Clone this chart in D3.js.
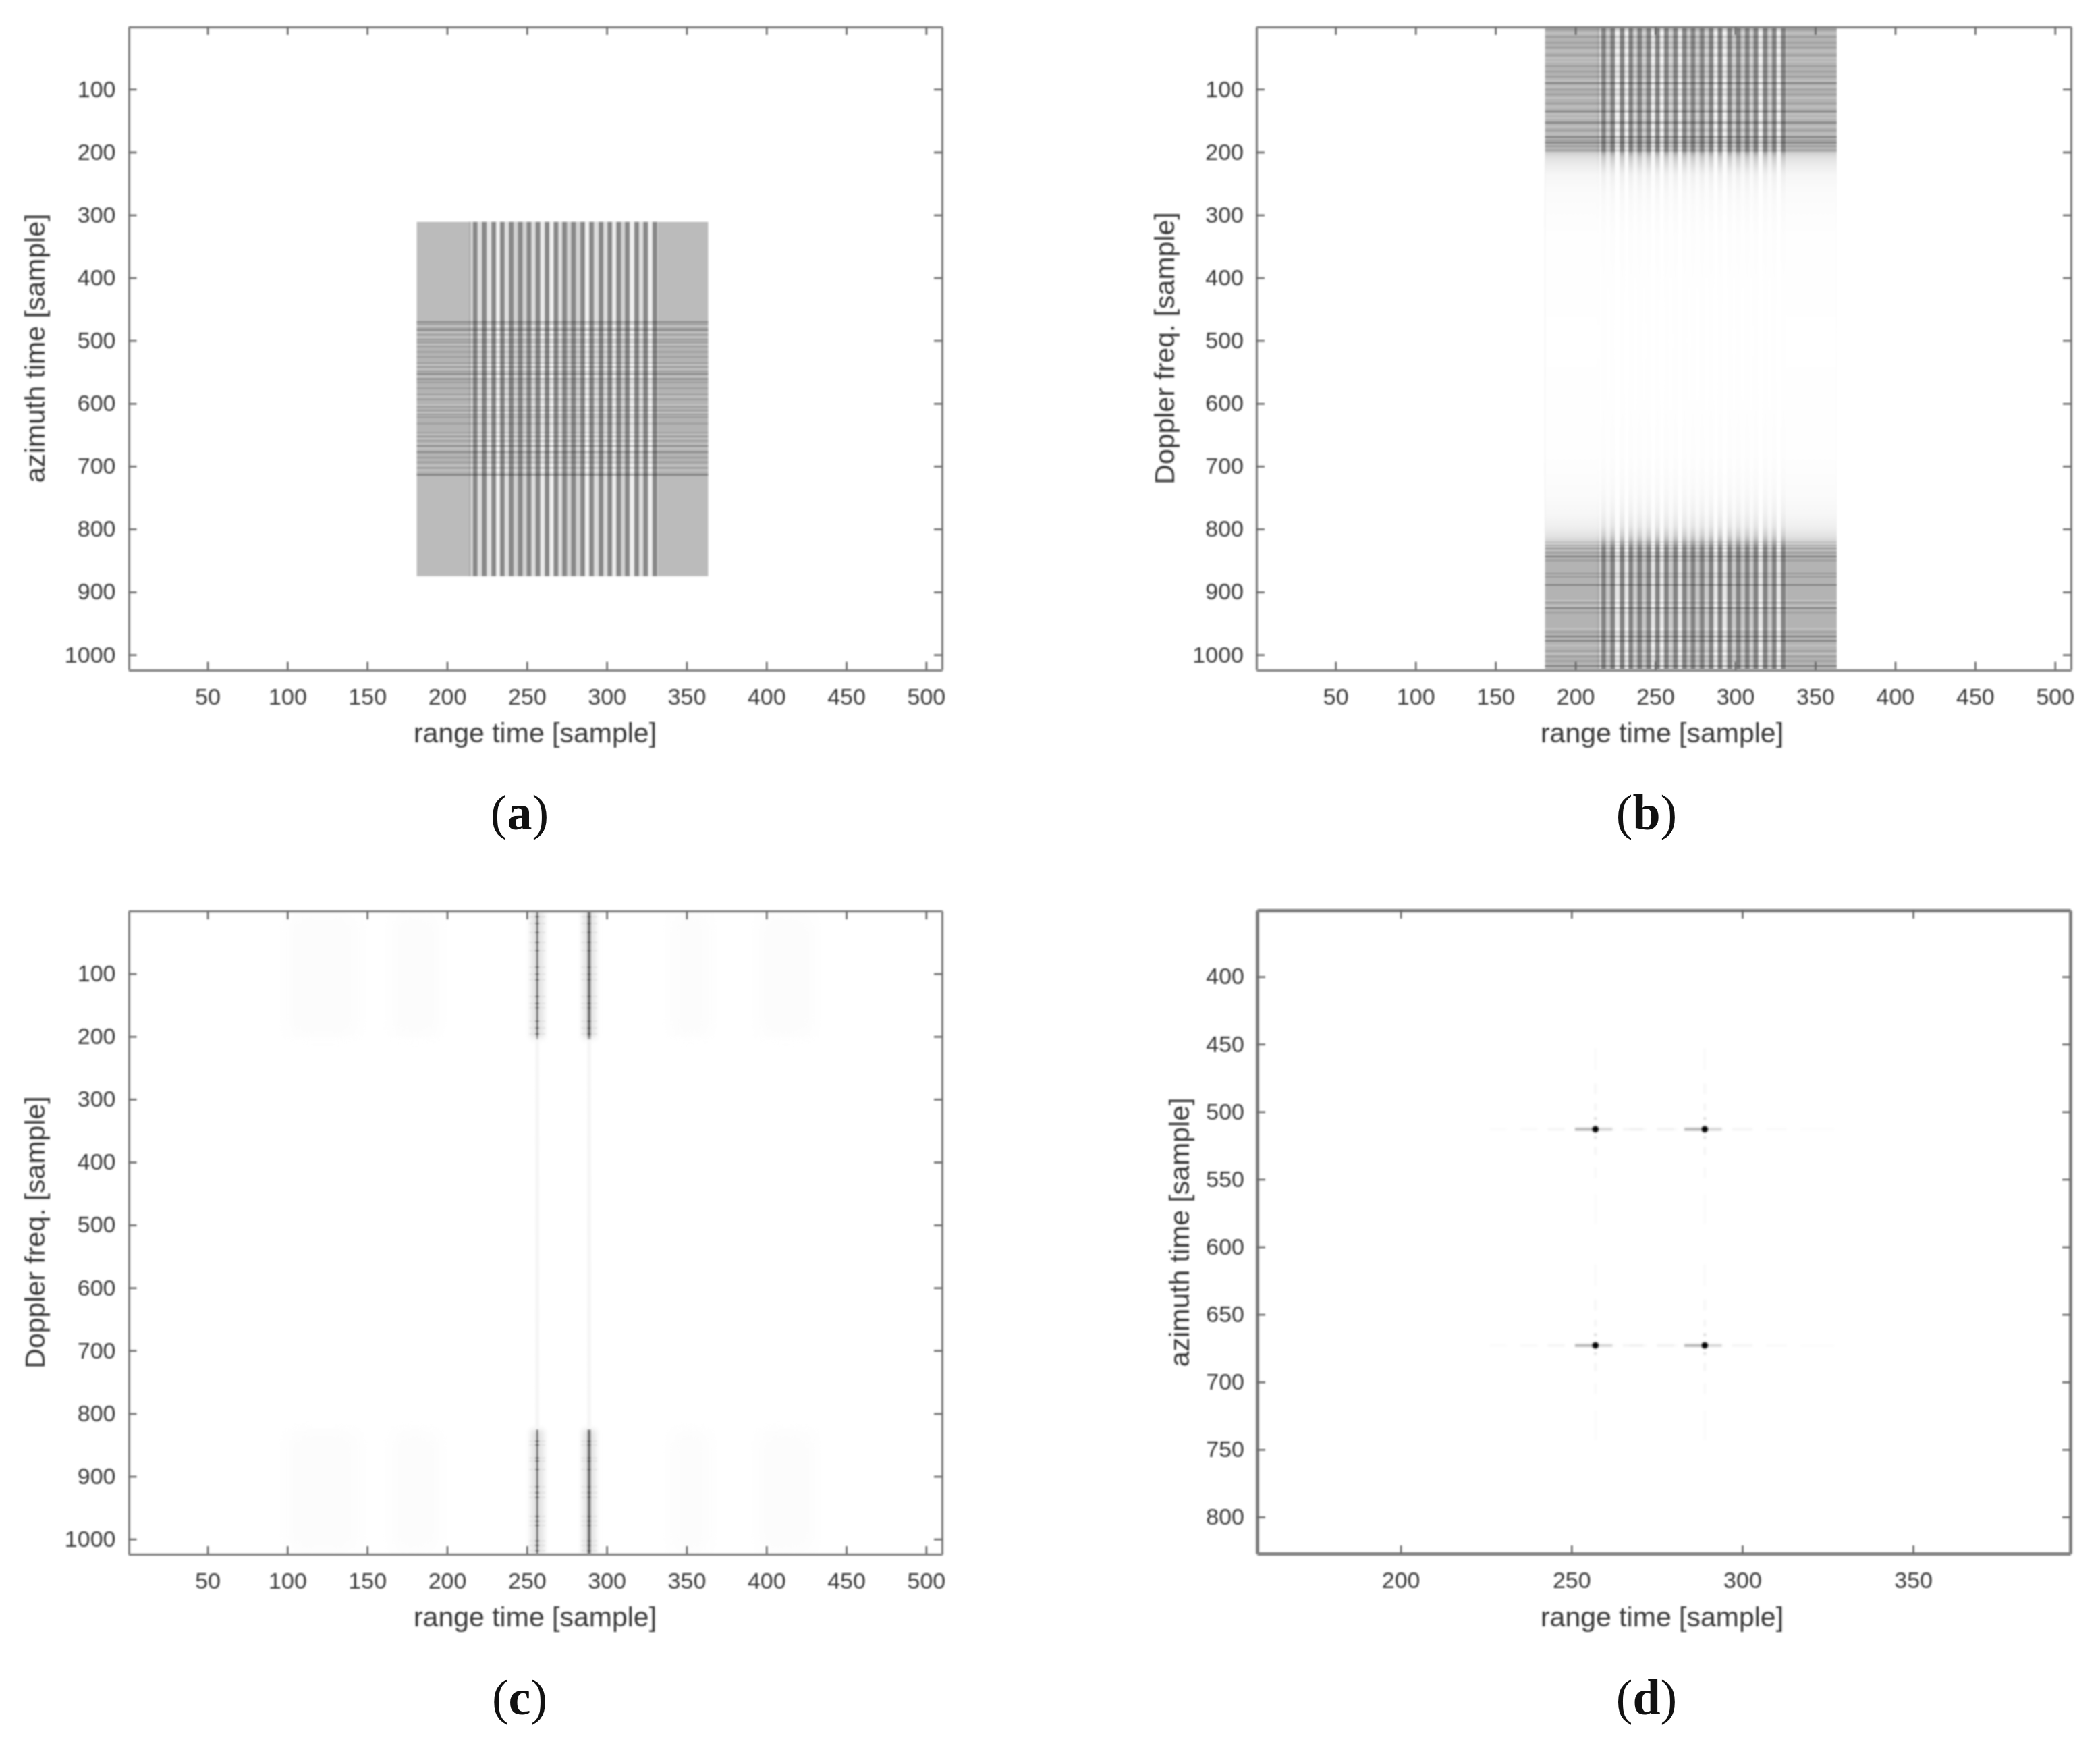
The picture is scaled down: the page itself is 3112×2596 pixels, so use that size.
<!DOCTYPE html>
<html>
<head>
<meta charset="utf-8">
<script src="https://cdn.jsdelivr.net/npm/d3@7"></script>
<style>
body { margin: 0; background: #fff; }
.tick text, .lab { font-family: "Liberation Sans", Arial, sans-serif; fill: #363636; }
.cap { font-family: "Liberation Serif", serif; fill: #111; }
</style>
</head>
<body>
<svg id="fig" width="3112" height="2596"></svg>
<script>
// ticks
var xTicksFull = [50, 100, 150, 200, 250, 300, 350, 400, 450, 500];
var yTicksFull = [100, 200, 300, 400, 500, 600, 700, 800, 900, 1000];
var xTicksZoom = [200, 250, 300, 350];
var yTicksZoom = [400, 450, 500, 550, 600, 650, 700, 750, 800];

var stripes = [217.6, 223.3, 229.2, 234.6, 240.2, 245.8, 251.3, 256.9, 262.6, 268.2, 273.6,
	279.2, 284.9, 290.5, 296.4, 301.9, 307.5, 312.9, 318.7, 324.4, 330.1];
var aGaps = [.92, .95, 1, .93, .88, .88, .92, .98, 1, .93, .88, .88, 1, .92, .92, .98, .88, 1, .92, 1];
var bGaps = [.86, 1, 1, .88, .86, 1, 1, .88, 1, .86, .86, .88, 1, 1, .88, .86, .88, 1, .88, 1];
var patchX = [181, 363.5];
var patchY = [311, 875];

// panel a, azimuth rows of the band
var aBand = [469, 715];
var aDark = [469.9, 473.4, 480.6, 483.5, 490.6, 498.5, 502.8, 509.2, 518, 526, 536, 542.2, 548.6, 552.9,
	561.1, 566.5, 576, 586.2, 593.4, 605.2, 611.3, 617.4, 622, 632, 647, 652.5, 659.6, 667.5, 677.5,
	686, 693.6, 702.6, 712.6, 714.5];
var aLight = [477, 487, 494.9, 506.4, 538.6, 545.8, 557.2, 588.7, 602.3, 614.9, 648.9, 656, 665, 672.2, 699, 706.2];
var aStrong = [469.9, 483.5, 552.9, 561.1, 667.5, 677.5, 714];

// panel b, doppler rows
var bBands = [[0.5, 198], [830, 1024]];
var bDark = [5, 16.9, 25.9, 33, 45.6, 63.5, 72, 79.6, 90.3, 101, 108, 122, 135, 153, 165, 176, 181, 185, 190.6, 197.7,
	821, 826, 831, 838, 844, 850, 871, 876, 889, 917, 926, 933.5, 964, 971, 978, 994, 1003, 1010, 1018];
var bLight = [11, 39, 51, 56, 86, 95.7, 113.6, 128, 140.4, 145.8, 159, 171, 823, 828, 834, 914, 922, 958.6, 985, 998];
var bStrong = [90.3, 135, 153, 176, 185, 844, 889, 926, 971, 978, 1018];
// white wash over the middle of panels b and c: [sample, opacity]
var bFade = [[198, 0], [201, .3], [208, .55], [223, .75], [237, .88], [266, .94], [302, .97], [337, .985], [500, .995],
	[680, .985], [710, .97], [745, .94], [775, .88], [796, .78], [810, .6], [820, .35], [830, 0]];

// panel c
var cLines = [256.5, 289];
var cLineWidths = [1.3, 2.1];
var cDots = [9.5, 20, 34.5, 50.7, 63.2, 90, 100.8, 109.7, 136.6, 147.3, 154.5, 176, 186.7, 195.7,
	844, 850, 871, 876, 889, 917, 926, 933.5, 964, 971, 978, 1003, 1010, 1018];
var cBands = [[0.5, 205], [825, 1024]];
var cSmudges = [[100, 145], [165, 195], [340, 365], [395, 430]];

// panel d
var dPeakX = [257, 289];
var dPeakY = [513, 673];
// side lobes around a peak: [from, to, opacity] in samples from the peak
var dLobesX = [[-6, -1, .3], [1, 5, .16], [-14, -9, .04], [8, 14, .04], [-22, -17, .025], [18, 24, .02], [-31, -26, .015], [28, 38, .012]];
var dLobesY = [[-9, -7, .14], [5, 7, .12], [-19, -14, .04], [13, 19, .04], [-34, -26, .03], [28, 36, .025], [-60, -44, .02], [48, 70, .015]];

var svg = d3.select("#fig");
var defs = svg.append("defs");
var makeBlur = function(id, amount){
	defs.append("filter").attr("id", id).attr("filterUnits", "userSpaceOnUse")
		.attr("x", -4000).attr("y", -4000).attr("width", 9000).attr("height", 9000)
		.append("feGaussianBlur").attr("stdDeviation", amount);
};
makeBlur("blur", 1.1);
makeBlur("soft", 0.8);
makeBlur("peak", 1.5);
makeBlur("halo", 4);
makeBlur("wide", 16);

var grey = function(v){
	var c = Math.round(v * 255);
	return d3.rgb(c, c, c).toString();
};

var makePanel = function(p){
	var x = d3.scaleLinear().domain(p.xDomain).range([p.left, p.right]);
	var y = d3.scaleLinear().domain(p.yDomain).range([p.top, p.bottom]);
	var clipId = "clip" + p.name;
	defs.append("clipPath").attr("id", clipId).append("rect")
		.attr("x", p.left).attr("y", p.top)
		.attr("width", p.right - p.left).attr("height", p.bottom - p.top);
	var g = svg.append("g").attr("clip-path", "url(#" + clipId + ")")
		.append("g").attr("filter", "url(#" + (p.blur || "blur") + ")").style("isolation", "isolate");
	return {x: x, y: y, img: g, p: p};
};

var rows = function(g, x, y, list, width, color){
	g.selectAll(null).data(list).enter().append("rect")
		.attr("x", x(patchX[0])).attr("width", x(patchX[1]) - x(patchX[0]))
		.attr("y", function(d){ return y(d - width / 2); })
		.attr("height", function(d){ return y(d + width / 2) - y(d - width / 2); })
		.attr("fill", color);
};

var bandBlock = function(g, x, y, band, color){
	g.append("rect").attr("x", x(patchX[0])).attr("width", x(patchX[1]) - x(patchX[0]))
		.attr("y", y(band[0])).attr("height", y(band[1]) - y(band[0]))
		.attr("fill", color);
};

// columns go on top of the rows with multiply so the crossings come out darker
var columns = function(g, x, y, gaps, top, bottom){
	var c = g.append("g").style("mix-blend-mode", "multiply");
	var h = y(bottom) - y(top);
	c.append("rect").attr("x", x(patchX[0])).attr("y", y(top))
		.attr("width", x(patchX[1]) - x(patchX[0])).attr("height", h).attr("fill", grey(.78));
	c.append("rect").attr("x", x(214)).attr("y", y(top))
		.attr("width", x(332) - x(214)).attr("height", h).attr("fill", grey(.92));
	c.append("rect").attr("x", x(213.4)).attr("y", y(top))
		.attr("width", x(215) - x(213.4)).attr("height", h).attr("fill", grey(.74));
	c.selectAll(".gap").data(gaps).enter().append("rect").attr("class", "gap")
		.attr("x", function(d, i){ return x((stripes[i] + stripes[i + 1]) / 2 - 1.3); })
		.attr("width", x(2.6) - x(0))
		.attr("y", y(top)).attr("height", h)
		.attr("fill", function(d){ return grey(d); });
	c.selectAll(".stripe").data(stripes).enter().append("rect").attr("class", "stripe")
		.attr("x", function(d){ return x(d - 1.5); })
		.attr("width", x(3) - x(0))
		.attr("y", y(top)).attr("height", h)
		.attr("fill", grey(.57));
};

// fade the picture to white between the two doppler bands
var addFade = function(o, id, from, to){
	var first = bFade[0][0];
	var last = bFade[bFade.length - 1][0];
	var fade = defs.append("linearGradient").attr("id", id).attr("gradientUnits", "userSpaceOnUse")
		.attr("x1", 0).attr("x2", 0).attr("y1", o.y(first)).attr("y2", o.y(last));
	fade.selectAll("stop").data(bFade).enter().append("stop")
		.attr("offset", function(d){ return (d[0] - first) / (last - first); })
		.attr("stop-color", "#fff")
		.attr("stop-opacity", function(d){ return d[1]; });
	o.img.append("rect").attr("x", o.x(from)).attr("width", o.x(to) - o.x(from))
		.attr("y", o.y(first)).attr("height", o.y(last) - o.y(first))
		.attr("fill", "url(#" + id + ")");
};

var drawAxes = function(o, xTicks, yTicks, style){
	var p = o.p;
	var plain = d3.format("d");
	var sides = [
		{axis: d3.axisBottom(o.x).tickValues(xTicks).tickPadding(27), at: [0, p.bottom], labels: true},
		{axis: d3.axisTop(o.x).tickValues(xTicks), at: [0, p.top], labels: false},
		{axis: d3.axisLeft(o.y).tickValues(yTicks).tickPadding(19), at: [p.left, 0], labels: true},
		{axis: d3.axisRight(o.y).tickValues(yTicks), at: [p.right, 0], labels: false}
	];
	sides.forEach(function(s){
		s.axis.tickSizeInner(-12).tickSizeOuter(0).tickFormat(s.labels ? plain : "");
		var a = svg.append("g").attr("transform", "translate(" + s.at[0] + "," + s.at[1] + ")")
			.attr("filter", "url(#soft)")
			.call(s.axis);
		a.select(".domain").attr("stroke", style.color).attr("stroke-width", style.width);
		a.selectAll(".tick line").attr("stroke", style.tick).attr("stroke-width", 2.6);
		a.selectAll(".tick text").attr("font-size", 34).attr("font-family", null);
	});
	svg.append("text").attr("class", "lab").attr("font-size", 41).attr("filter", "url(#soft)")
		.attr("text-anchor", "middle")
		.attr("x", p.xLabel[0]).attr("y", p.xLabel[1])
		.text(p.xTitle);
	svg.append("text").attr("class", "lab").attr("font-size", 41).attr("filter", "url(#soft)")
		.attr("text-anchor", "middle")
		.attr("transform", "translate(" + p.yLabel[0] + "," + p.yLabel[1] + ") rotate(-90)")
		.text(p.yTitle);
	var cap = svg.append("text").attr("class", "cap").attr("font-size", 74)
		.attr("text-anchor", "middle").attr("x", p.cap[0]).attr("y", p.cap[1]);
	cap.append("tspan").text("(");
	cap.append("tspan").attr("font-weight", "bold").text(p.name);
	cap.append("tspan").text(")");
};

var thin = {color: "#7a7a7a", tick: "#666", width: 3};

// panel a
var a = makePanel({name: "a", left: 190.5, right: 1396, top: 39.7, bottom: 992.5,
	xDomain: [0.5, 510], yDomain: [0.5, 1024],
	xTitle: "range time [sample]", yTitle: "azimuth time [sample]",
	xLabel: [793, 1100], yLabel: [66, 516], cap: [770, 1229]});
bandBlock(a.img, a.x, a.y, patchY, grey(.94));
bandBlock(a.img, a.x, a.y, aBand, grey(.9));
rows(a.img, a.x, a.y, aDark, 1.7, grey(.74));
rows(a.img, a.x, a.y, aStrong, 1.3, grey(.56));
rows(a.img, a.x, a.y, aLight, 1.7, grey(1));
columns(a.img, a.x, a.y, aGaps, patchY[0], patchY[1]);
drawAxes(a, xTicksFull, yTicksFull, thin);

// panel b
var b = makePanel({name: "b", left: 1862, right: 3069, top: 39.7, bottom: 992.5,
	xDomain: [0.5, 510], yDomain: [0.5, 1024],
	xTitle: "range time [sample]", yTitle: "Doppler freq. [sample]",
	xLabel: [2463, 1100], yLabel: [1740, 516], cap: [2440, 1229]});
bandBlock(b.img, b.x, b.y, [0.5, 1024], grey(.94));
bBands.forEach(function(d){ bandBlock(b.img, b.x, b.y, d, grey(.9)); });
rows(b.img, b.x, b.y, bDark, 1.7, grey(.72));
rows(b.img, b.x, b.y, bStrong, 1.6, grey(.5));
rows(b.img, b.x, b.y, bLight, 1.7, grey(1));
columns(b.img, b.x, b.y, bGaps, 0.5, 1024);
addFade(b, "bFade", patchX[0], patchX[1]);
drawAxes(b, xTicksFull, yTicksFull, thin);

// panel c
var c = makePanel({name: "c", left: 190.5, right: 1396, top: 1350, bottom: 2303,
	xDomain: [0.5, 510], yDomain: [0.5, 1024],
	xTitle: "range time [sample]", yTitle: "Doppler freq. [sample]",
	xLabel: [793, 2410], yLabel: [66, 1826], cap: [770, 2540]});
var cWide = c.img.append("g").attr("filter", "url(#wide)");
var cHalo = c.img.append("g").attr("filter", "url(#halo)");
var cCore = c.img.append("g");
cBands.forEach(function(band){
	cWide.selectAll(null).data(cSmudges).enter().append("rect")
		.attr("x", function(d){ return c.x(d[0]); })
		.attr("width", function(d){ return c.x(d[1]) - c.x(d[0]); })
		.attr("y", c.y(band[0])).attr("height", c.y(band[1]) - c.y(band[0]))
		.attr("fill", "#fcfcfc");
	cHalo.selectAll(null).data(cLines).enter().append("rect")
		.attr("x", function(d){ return c.x(d - 4); })
		.attr("width", c.x(8) - c.x(0))
		.attr("y", c.y(band[0])).attr("height", c.y(band[1]) - c.y(band[0]))
		.attr("fill", "#e2e2e2");
	cCore.selectAll(null).data(cLines).enter().append("rect")
		.attr("x", function(d, i){ return c.x(d - cLineWidths[i] / 2); })
		.attr("width", function(d, i){ return c.x(cLineWidths[i]) - c.x(0); })
		.attr("y", c.y(band[0])).attr("height", c.y(band[1]) - c.y(band[0]))
		.attr("fill", "#777777");
});
cLines.forEach(function(line){
	cCore.selectAll(null).data(cDots).enter().append("rect")
		.attr("x", c.x(line - 5)).attr("width", c.x(10) - c.x(0))
		.attr("y", function(d){ return c.y(d - 0.7); })
		.attr("height", c.y(1.4) - c.y(0))
		.attr("fill", "#dcdcdc");
	cCore.selectAll(null).data(cDots).enter().append("rect")
		.attr("x", c.x(line - 1.2)).attr("width", c.x(2.4) - c.x(0))
		.attr("y", function(d){ return c.y(d - 0.7); })
		.attr("height", c.y(1.4) - c.y(0))
		.attr("fill", "#333333");
});
addFade(c, "cFade", 0.5, 510);
// very faint trace between the two bands
c.img.selectAll(null).data(cLines).enter().append("rect")
	.attr("x", function(d){ return c.x(d - 1.2); })
	.attr("width", c.x(2.4) - c.x(0))
	.attr("y", c.y(cBands[0][1])).attr("height", c.y(cBands[1][0]) - c.y(cBands[0][1]))
	.attr("fill", "#f6f6f6");
drawAxes(c, xTicksFull, yTicksFull, thin);

// panel d
var d_ = makePanel({name: "d", blur: "peak", left: 1863, right: 3068, top: 1349, bottom: 2302,
	xDomain: [158, 396], yDomain: [351, 827],
	xTitle: "range time [sample]", yTitle: "azimuth time [sample]",
	xLabel: [2463, 2410], yLabel: [1762, 1826], cap: [2440, 2540]});
dPeakY.forEach(function(py){
	dPeakX.forEach(function(px){
		d_.img.selectAll(null).data(dLobesX).enter().append("rect")
			.attr("x", function(d){ return d_.x(px + d[0]); })
			.attr("width", function(d){ return d_.x(d[1]) - d_.x(d[0]) ; })
			.attr("y", d_.y(py - 1)).attr("height", d_.y(2) - d_.y(0))
			.attr("fill", "#000").attr("opacity", function(d){ return d[2]; });
		d_.img.selectAll(null).data(dLobesY).enter().append("rect")
			.attr("x", d_.x(px - 0.4)).attr("width", d_.x(0.8) - d_.x(0))
			.attr("y", function(d){ return d_.y(py + d[0]); })
			.attr("height", function(d){ return d_.y(d[1]) - d_.y(d[0]); })
			.attr("fill", "#000").attr("opacity", function(d){ return d[2]; });
		d_.img.append("ellipse")
			.attr("cx", d_.x(px)).attr("cy", d_.y(py))
			.attr("rx", d_.x(0.95) - d_.x(0)).attr("ry", d_.y(2.4) - d_.y(0))
			.attr("fill", "#000");
	});
});
drawAxes(d_, xTicksZoom, yTicksZoom, {color: "#7d7d7d", tick: "#666", width: 4.8});
</script>
</body>
</html>
